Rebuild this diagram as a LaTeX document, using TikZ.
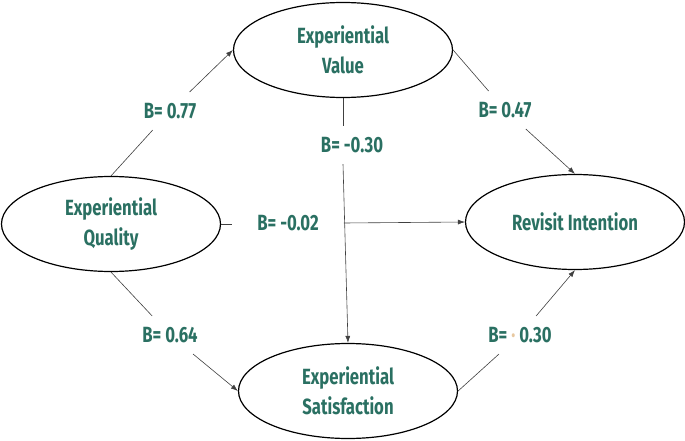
\documentclass[tikz,border=0pt]{standalone}
\usepackage{fontspec}
\setmainfont[FakeStretch=0.76]{Fira Sans}
\usetikzlibrary{shapes.geometric,arrows.meta}

\definecolor{coefgreen}{RGB}{42,112,98}
\definecolor{dotc}{RGB}{232,200,160}

\tikzset{
  construct/.style={ellipse,draw=black,line width=1.2pt,
    minimum width=219pt,minimum height=95pt,inner sep=0pt,
    align=center,text=coefgreen,font=\fontsize{22}{30}\selectfont\bfseries},
  coef/.style={fill=white,inner xsep=1pt,inner ysep=11pt,
    text=coefgreen,font=\fontsize{22}{25}\selectfont\bfseries},
  link/.style={draw=black!75,line width=0.6pt},
  arrow/.style={link,-{Latex[length=7pt,width=5pt]}}
}

\begin{document}
\begin{tikzpicture}[x=1pt,y=-1pt]
  \useasboundingbox (0,0) rectangle (685,441);

  % constructs
  \node[construct] (EV) at (343,50) {Experiential\\Value};
  \node[construct] (EQ) at (111,224) {Experiential\\Quality};
  \node[construct] (RI) at (575,222) {Revisit Intention};
  \node[construct] (ES) at (348,391) {Experiential\\Satisfaction};

  % path coefficients
  \node[coef] (b77) at (170,111) {B= 0.77};
  \node[coef] (b30a) at (352,145) {B= -0.30};
  \node[coef,inner xsep=25pt] (b02) at (288,223) {B= -0.02};
  \node[coef] (b47) at (505,110) {B= 0.47};
  \node[coef] (b64) at (170,335) {B= 0.64};
  \node[coef] (b30b) at (520,335) {B= {\color{dotc}·} 0.30};

  % paths
  \draw[link] (EQ.north) -- (b77);
  \draw[arrow] (b77) -- (EV.west);
  \draw[link] (EV.south) -- (EV.south |- b30a.north);
  \draw[arrow] (EV.south |- b30a.south) -- (ES.north);
  \draw[link] (EQ.east) -- (EQ.east -| b02.west);
  \draw[arrow] (b02.east) -- (RI.west);
  \draw[link] (EV.east) -- (b47);
  \draw[arrow] (b47) -- (RI.north);
  \draw[link] (EQ.south) -- (b64);
  \draw[arrow] (b64) -- (ES.west);
  \draw[link] (ES.east) -- (b30b);
  \draw[arrow] (b30b) -- (RI.south);
\end{tikzpicture}
\end{document}
